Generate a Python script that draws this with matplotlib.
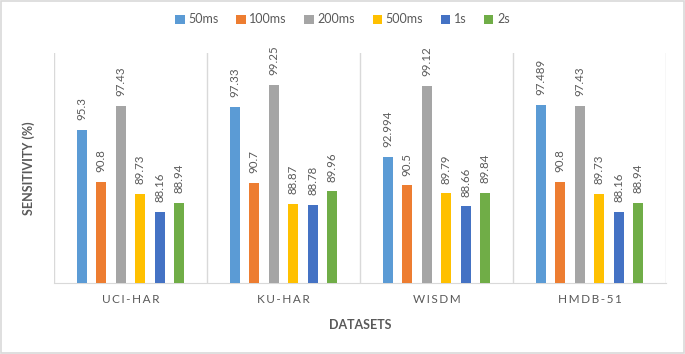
import numpy as np
import matplotlib.pyplot as plt
from matplotlib.patches import Rectangle

datasets = ["UCI-HAR", "KU-HAR", "WISDM", "HMDB-51"]
windows = ["50ms", "100ms", "200ms", "500ms", "1s", "2s"]
colors = ["#5B9BD5", "#ED7D31", "#A5A5A5", "#FFC000", "#4472C4", "#70AD47"]

sens_50ms = [95.3, 97.33, 92.994, 97.489]
sens_100ms = [90.8, 90.7, 90.5, 90.8]
sens_200ms = [97.43, 99.25, 99.12, 97.43]
sens_500ms = [89.73, 88.87, 89.79, 89.73]
sens_1s = [88.16, 88.78, 88.66, 88.16]
sens_2s = [88.94, 89.96, 89.84, 88.94]
series = [sens_50ms, sens_100ms, sens_200ms, sens_500ms, sens_1s, sens_2s]

plt.rcParams["font.family"] = ["Lato", "DejaVu Sans"]
txt = "#595959"
grid = "#D9D9D9"

fig = plt.figure(figsize=(6.85, 3.54), dpi=100)
fig.patches.append(Rectangle((0.002, 0.004), 0.996, 0.992, transform=fig.transFigure,
                             fill=False, edgecolor=grid, linewidth=1.2))
ax = fig.add_axes([0.0788, 0.2006, 0.8935, 0.6497])

x = np.arange(len(datasets))
step = 0.1275
width = 0.066
for i, (name, vals, c) in enumerate(zip(windows, series, colors)):
    pos = x + (i - 2.5) * step
    ax.bar(pos, vals, width=width, color=c, label=name, zorder=3)
    for px, v in zip(pos, vals):
        ax.annotate(str(v), (px, v), xytext=(0, 7), textcoords="offset points",
                    rotation=90, ha="center", va="bottom", fontsize=8.3, color=txt)

ax.set_ylim(82, 102)
ax.set_xlim(-0.5, len(datasets) - 0.5)
ax.set_yticks([])
for b in np.arange(-0.5, len(datasets), 1.0):
    ax.axvline(b, color=grid, linewidth=1, zorder=1)
for s in ["top", "left", "right"]:
    ax.spines[s].set_visible(False)
ax.spines["bottom"].set_color(grid)
ax.set_xticks(x)
ax.set_xticklabels(["\u2009".join(d) for d in datasets], fontsize=8.5, color=txt)
ax.tick_params(axis="x", length=0, pad=8)
ax.set_xlabel("DATASETS", fontsize=9, fontweight="bold", color=txt, labelpad=10)
ax.set_ylabel("SENSITIVITY (%)", fontsize=9, fontweight="bold", color=txt, labelpad=14)

fig.legend(loc="center", bbox_to_anchor=(0.5, 0.945), ncol=6, frameon=False,
           fontsize=9, labelcolor=txt, handlelength=0.75, handleheight=0.75,
           handletextpad=0.3, columnspacing=1.4)

fig.savefig("out.png", dpi=100)
